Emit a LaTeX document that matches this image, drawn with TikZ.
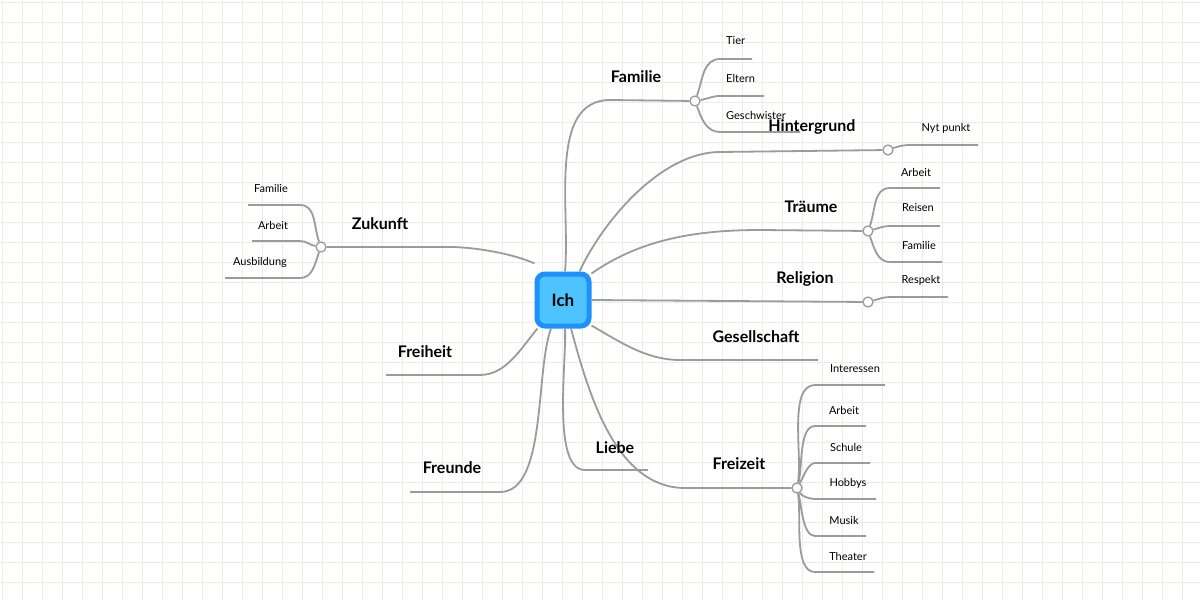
\documentclass[tikz,border=0pt]{standalone}
\usepackage{fontspec}
\setmainfont{Lato}
\definecolor{gridc}{RGB}{234,240,224}
\definecolor{lnc}{RGB}{155,155,155}
\definecolor{ichout}{RGB}{30,144,255}
\definecolor{ichin}{RGB}{77,195,255}
\begin{document}
\begin{tikzpicture}[x=1pt,y=-1pt,
 ln/.style={draw=lnc,line width=1.8pt},
 knot/.style={circle,draw=lnc,fill=white,line width=1.3pt,minimum size=10pt,inner sep=0pt},
 big/.style={font=\fontsize{16}{18}\selectfont\bfseries,inner sep=0pt},
 small/.style={font=\fontsize{11}{13}\selectfont,inner sep=0pt}]
\useasboundingbox (0,0) rectangle (1200,600);
\fill[white] (0,0) rectangle (1200,600);
\foreach \i in {2,22,...,1200} \draw[gridc,line width=0.8pt] (\i,0) -- (\i,600);
\foreach \j in {2,22,...,600} \draw[gridc,line width=0.8pt] (0,\j) -- (1200,\j);
% centre
\node[draw=ichout,line width=5pt,fill=ichin,rounded corners=8pt,minimum size=52pt,
  font=\fontsize{17}{19}\selectfont\bfseries] (ich) at (563,300) {Ich};
% Familie
\node[knot] (kfam) at (695,101) {};
\coordinate (sfam) at (610,100);
\draw[ln] (ich.north) ++(2,0) to[out=85,in=180,looseness=0.9] (sfam) -- (kfam);
\node[big] (tfam) at (636,77) {Familie};
\coordinate (e1) at (752,59); \coordinate (e2) at (764,96); \coordinate (e3) at (800,132);
\draw[ln] (kfam) to[out=70,in=180] (720,59) -- (e1);
\draw[ln] (kfam) to[out=10,in=180] (720,96) -- (e2);
\draw[ln] (kfam) to[out=-70,in=180] (720,132) -- (e3);
\node[small,anchor=west] at (726,41) {Tier};
\node[small,anchor=west] at (726,78) {Eltern};
\node[small,anchor=west] at (726,115) {Geschwister};
% Hintergrund
\node[knot] (khin) at (888,150) {};
\draw[ln] (ich.north east) ++(-12,0) to[out=65,in=180,looseness=0.8] (720,152) -- (khin);
\node[big] at (812,127) {Hintergrund};
\coordinate (e4) at (978,145);
\draw[ln] (khin) to[out=20,in=180] (912,145) -- (e4);
\node[small] at (946,128) {Nyt punkt};
% Träume
\node[knot] (ktr) at (868,231) {};
\draw[ln] (ich.north east) ++(0,2) to[out=35,in=180,looseness=0.9] (760,230) -- (ktr);
\node[big] at (811,207) {Träume};
\draw[ln] (ktr) to[out=70,in=180] (890,188) -- (940,188);
\draw[ln] (ktr) to[out=15,in=180] (890,226) -- (940,226);
\draw[ln] (ktr) to[out=-70,in=180] (890,262) -- (942,262);
\node[small] at (916,172) {Arbeit};
\node[small] at (918,208) {Reisen};
\node[small] at (919,245) {Familie};
% Religion
\node[knot] (krel) at (868,302) {};
\draw[ln] (ich.east) -- (krel);
\node[big] at (805,279) {Religion};
\draw[ln] (krel) to[out=15,in=180] (890,297) -- (948,297);
\node[small] at (921,280) {Respekt};
% Gesellschaft
\coordinate (ges) at (818,360);
\draw[ln] (ich.south east) ++(0,-3) to[out=-30,in=180,looseness=0.9] (680,360) -- (ges);
\node[big] at (756,337) {Gesellschaft};
% Freizeit
\node[knot] (kfz) at (797,488) {};
\draw[ln] (ich.south) ++(8,0) to[out=-75,in=180,looseness=0.9] (685,488) -- (kfz);
\node[big] at (739,464) {Freizeit};
\foreach \y/\e/\t/\lx/\o in {385/885/Interessen/855/80,426/866/Arbeit/844/75,463/870/Schule/846/60,499/876/Hobbys/848/-60,536/866/Musik/844/-75,572/874/Theater/848/-80}{
  \draw[ln] (kfz) to[out=\o,in=180,looseness=0.7] (815,\y) -- (\e,\y);
  \node[small] at (\lx,\y-16) {\t};}
% Liebe
\coordinate (lie) at (648,470);
\draw[ln] (ich.south) ++(2,0) to[out=-87,in=180,looseness=0.6] (585,470) -- (lie);
\node[big] at (615,448) {Liebe};
% Freunde
\coordinate (fre) at (410,492);
\draw[ln] (ich.south) ++(-12,0) to[out=-110,in=0,looseness=0.7] (500,492) -- (fre);
\node[big] at (452,468) {Freunde};
% Freiheit
\coordinate (frh) at (386,375);
\draw[ln] (ich.south west) ++(3,0) to[out=-130,in=0,looseness=0.9] (480,375) -- (frh);
\node[big] at (425,352) {Freiheit};
% Zukunft
\node[knot] (kzu) at (321,247) {};
\draw[ln] (ich.north west) ++(0,-8) to[out=155,in=0,looseness=0.7] (450,247) -- (kzu);
\node[big] at (380,224) {Zukunft};
\draw[ln] (kzu) to[out=110,in=0] (300,205) -- (248,205);
\draw[ln] (kzu) to[out=170,in=0] (300,241) -- (252,241);
\draw[ln] (kzu) to[out=-110,in=0] (300,278) -- (225,278);
\node[small] at (271,188) {Familie};
\node[small] at (273,225) {Arbeit};
\node[small] at (260,262) {Ausbildung};
\end{tikzpicture}
\end{document}
